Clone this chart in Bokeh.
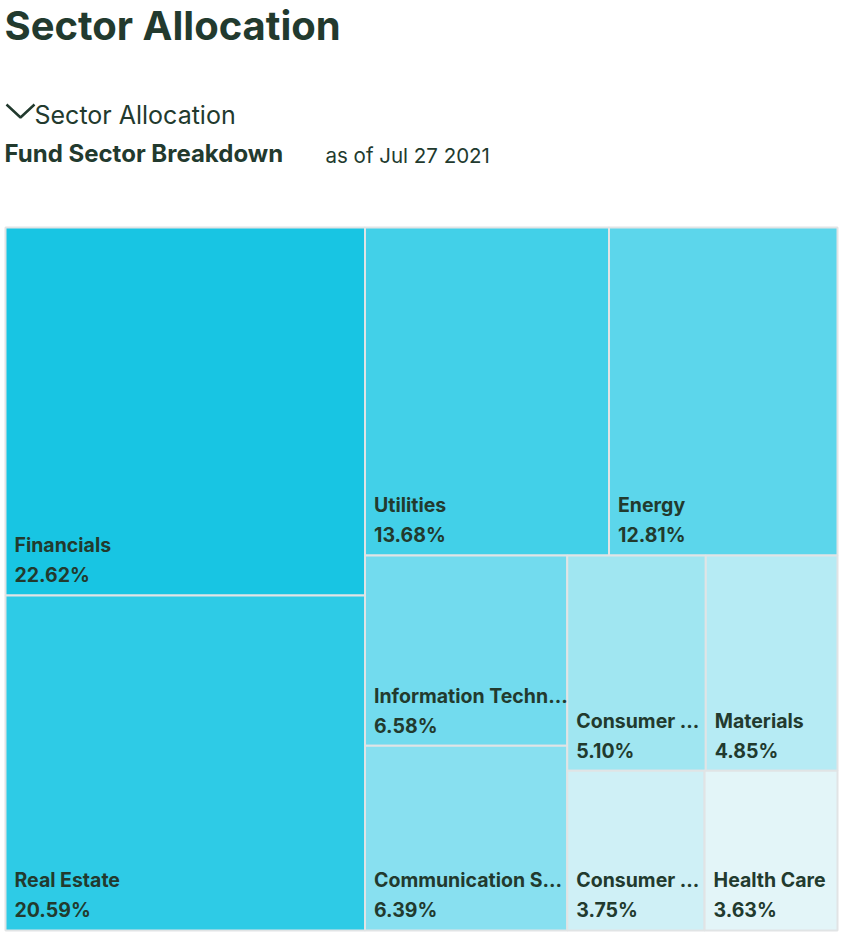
from bokeh.plotting import figure
from bokeh.models import Range1d, ColumnDataSource
from bokeh.core.properties import value
from bokeh.embed import file_html
from bokeh.resources import INLINE

# ---- data ----
sectors = ["Financials", "Real Estate", "Utilities", "Energy",
           "Information Technology", "Communication Services",
           "Consumer Discretionary", "Materials", "Consumer Staples", "Health Care"]
labels = ["Financials", "Real Estate", "Utilities", "Energy",
          "Information Techn...", "Communication S...",
          "Consumer ...", "Materials", "Consumer ...", "Health Care"]
weights = [22.62, 20.59, 13.68, 12.81, 6.58, 6.39, 5.10, 4.85, 3.75, 3.63]
colors = ["#18C5E3", "#2ECBE6", "#42D0E8", "#5CD6EB", "#72DBEE",
          "#88E0F0", "#A0E6F1", "#B6EBF4", "#CFF0F6", "#E3F5F8"]

TEXT = "#223A2E"
FONT = "Inter"
K = 0.42  # baseline calibration (fraction of font size)

W, H = 842, 934
TX0, TX1, TY0, TY1 = 5, 837, 227, 930


def worst(row, w):
    s = sum(row)
    return max(max(w * w * r / (s * s), (s * s) / (w * w * r)) for r in row)


def squarify(vals, x, y, dx, dy):
    total = sum(vals)
    areas = [v / total * dx * dy for v in vals]
    rects = []
    i = 0
    while i < len(areas):
        w = min(dx, dy)
        row = [areas[i]]
        j = i + 1
        while j < len(areas) and worst(row + [areas[j]], w) <= worst(row, w):
            row.append(areas[j])
            j += 1
        s = sum(row)
        if dx >= dy:
            cw = s / dy
            yy = y
            for r in row:
                h = r / cw
                rects.append((x, yy, x + cw, yy + h))
                yy += h
            x += cw
            dx -= cw
        else:
            ch = s / dx
            xx = x
            for r in row:
                ww = r / ch
                rects.append((xx, y, xx + ww, y + ch))
                xx += ww
            y += ch
            dy -= ch
        i = j
    return rects


rects = squarify(weights, TX0, TY0, TX1 - TX0, TY1 - TY0)

LS = 19.5
src = ColumnDataSource(dict(
    left=[r[0] for r in rects], top=[r[1] for r in rects],
    right=[r[2] for r in rects], bottom=[r[3] for r in rects],
    color=colors,
    name=labels,
    pct=["%.2f%%" % v for v in weights],
    lx=[r[0] + 9 for r in rects],
    ny=[r[3] - 42 - K * LS for r in rects],
    py=[r[3] - 12 - K * LS for r in rects],
))

p = figure(width=W, height=H, x_range=Range1d(0, W), y_range=Range1d(H, 0),
           output_backend="svg", toolbar_location=None, min_border=0,
           x_axis_type=None, y_axis_type=None)
p.grid.visible = False
p.outline_line_color = None
p.background_fill_color = "white"
p.border_fill_color = "white"

p.quad(left="left", right="right", top="top", bottom="bottom", source=src,
       fill_color="color", line_color="#E1E4E5", line_width=2)

p.text(x="lx", y="ny", text="name", source=src, text_font=value(FONT),
       text_font_style="bold", text_font_size=f"{LS}px", text_color=TEXT,
       text_baseline="alphabetic")
p.text(x="lx", y="py", text="pct", source=src, text_font=value(FONT),
       text_font_style="bold", text_font_size=f"{LS}px", text_color=TEXT,
       text_baseline="alphabetic")


def heading(x, base, txt, size, bold=False):
    p.text(x=[x], y=[base - K * size], text=[txt], text_font=value(FONT),
           text_font_style="bold" if bold else "normal",
           text_font_size=f"{size}px", text_color=TEXT,
           text_baseline="alphabetic")


heading(4, 42, "Sector Allocation", 40, bold=True)
p.line(x=[6, 20, 34], y=[104, 117, 104], line_color=TEXT, line_width=2.5)
heading(34, 125, "Sector Allocation", 25)
heading(4, 163, "Fund Sector Breakdown", 24, bold=True)
heading(325, 164, "as of Jul 27 2021", 20.5)

open("out.html", "w").write(file_html(p, INLINE))
